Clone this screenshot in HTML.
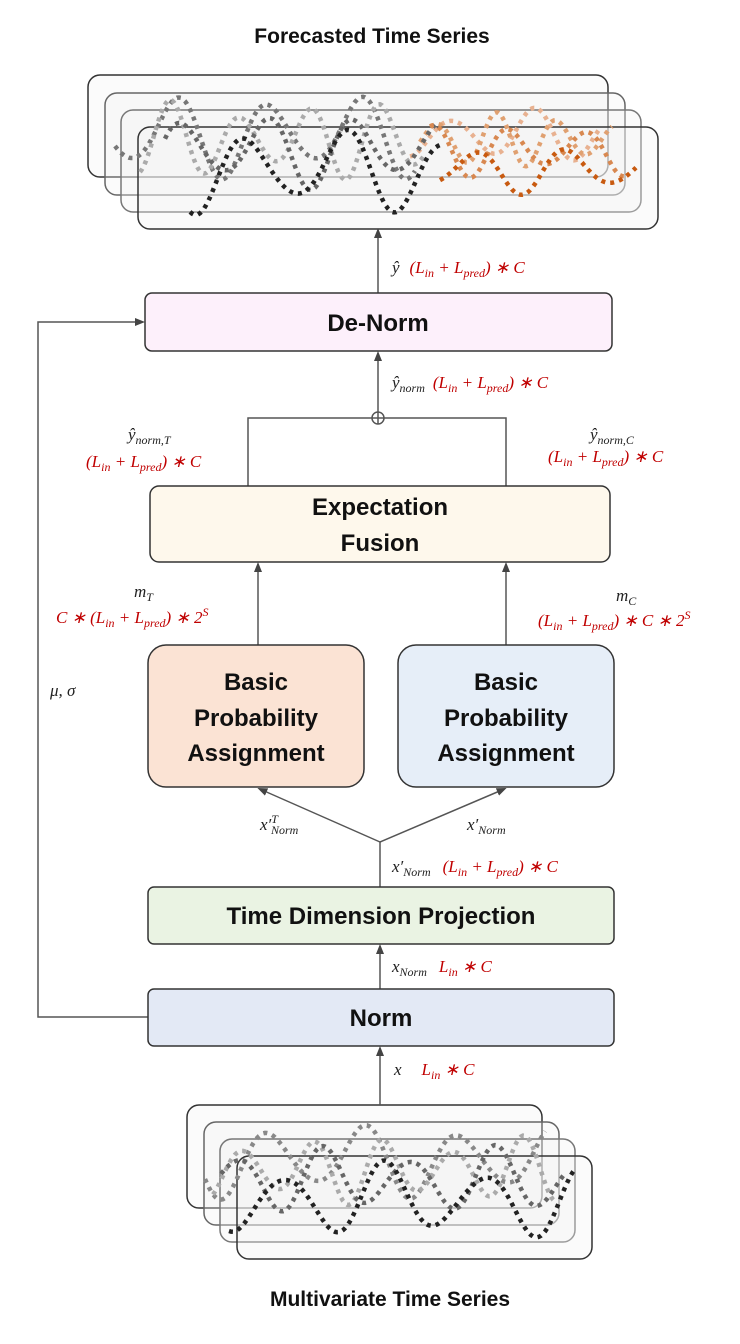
<!DOCTYPE html>
<html><head><meta charset="utf-8"><style>
html,body{margin:0;padding:0;background:#fff}
svg{display:block}
.t{font-family:"Liberation Sans",sans-serif;font-weight:bold;fill:#111;text-anchor:middle}
.m{font-family:"Liberation Serif",serif;font-style:italic;font-size:17px}
.r{fill:#c00000}
.k{fill:#222}
.s{font-size:12px}
</style></head><body>
<svg id="s" width="740" height="1344" viewBox="0 0 740 1344" xmlns="http://www.w3.org/2000/svg">
<defs><marker id="a" markerWidth="10" markerHeight="10" refX="5" refY="5" orient="auto" markerUnits="userSpaceOnUse"><path d="M0,1 L10,5 L0,9 Z" fill="#444"/></marker></defs>
<text class="t" x="372" y="43" font-size="21">Forecasted Time Series</text>
<text class="t" x="390" y="1306" font-size="21">Multivariate Time Series</text>
<g id="top"></g><g id="bot"></g>
<g stroke="#555" stroke-width="1.5" fill="none">
<line x1="378" y1="293" x2="378" y2="233" marker-end="url(#a)"/>
<line x1="378" y1="412" x2="378" y2="356" marker-end="url(#a)"/>
<circle cx="378" cy="418" r="6"/><line x1="372" y1="418" x2="384" y2="418"/><line x1="378" y1="412" x2="378" y2="424"/>
<polyline points="248,486 248,418 372,418"/><polyline points="384,418 506,418 506,486"/>
<line x1="258" y1="645" x2="258" y2="567" marker-end="url(#a)"/>
<line x1="506" y1="645" x2="506" y2="567" marker-end="url(#a)"/>
<polyline points="380,887 380,842"/>
<line x1="380" y1="842" x2="262" y2="790" marker-end="url(#a)"/>
<line x1="380" y1="842" x2="502" y2="790" marker-end="url(#a)"/>
<line x1="380" y1="989" x2="380" y2="949" marker-end="url(#a)"/>
<line x1="380" y1="1105" x2="380" y2="1051" marker-end="url(#a)"/>
<polyline points="148,1017 38,1017 38,322 140,322" marker-end="url(#a)"/>
</g>
<g stroke="#333" stroke-width="1.5">
<rect x="145" y="293" width="467" height="58" rx="7" fill="#fdf0fb"/>
<rect x="150" y="486" width="460" height="76" rx="9" fill="#fef8ec"/>
<rect x="148" y="645" width="216" height="142" rx="18" fill="#fbe3d4"/>
<rect x="398" y="645" width="216" height="142" rx="18" fill="#e6eef8"/>
<rect x="148" y="887" width="466" height="57" rx="6" fill="#eaf3e3"/>
<rect x="148" y="989" width="466" height="57" rx="6" fill="#e3e9f5"/>
</g>
<text class="t" x="378" y="331" font-size="24">De-Norm</text>
<text class="t" x="380" y="515" font-size="24">Expectation</text>
<text class="t" x="380" y="551" font-size="24">Fusion</text>
<text class="t" x="256" y="690" font-size="24">Basic</text>
<text class="t" x="256" y="726" font-size="24">Probability</text>
<text class="t" x="256" y="761" font-size="24">Assignment</text>
<text class="t" x="506" y="690" font-size="24">Basic</text>
<text class="t" x="506" y="726" font-size="24">Probability</text>
<text class="t" x="506" y="761" font-size="24">Assignment</text>
<text class="t" x="381" y="924" font-size="24">Time Dimension Projection</text>
<text class="t" x="381" y="1026" font-size="24">Norm</text>
<g class="m">
<text x="392" y="273"><tspan class="k">ŷ</tspan><tspan class="r" dx="10">(L</tspan><tspan class="r s" dy="4">in</tspan><tspan class="r" dy="-4"> + L</tspan><tspan class="r s" dy="4">pred</tspan><tspan class="r" dy="-4">) ∗ C</tspan></text>
<text x="392" y="388"><tspan class="k">ŷ</tspan><tspan class="k s" dy="4">norm</tspan><tspan class="r" dx="8" dy="-4">(L</tspan><tspan class="r s" dy="4">in</tspan><tspan class="r" dy="-4"> + L</tspan><tspan class="r s" dy="4">pred</tspan><tspan class="r" dy="-4">) ∗ C</tspan></text>
<text x="128" y="440"><tspan class="k">ŷ</tspan><tspan class="k s" dy="4">norm,T</tspan></text>
<text x="86" y="467"><tspan class="r">(L</tspan><tspan class="r s" dy="4">in</tspan><tspan class="r" dy="-4"> + L</tspan><tspan class="r s" dy="4">pred</tspan><tspan class="r" dy="-4">) ∗ C</tspan></text>
<text x="590" y="440"><tspan class="k">ŷ</tspan><tspan class="k s" dy="4">norm,C</tspan></text>
<text x="548" y="462"><tspan class="r">(L</tspan><tspan class="r s" dy="4">in</tspan><tspan class="r" dy="-4"> + L</tspan><tspan class="r s" dy="4">pred</tspan><tspan class="r" dy="-4">) ∗ C</tspan></text>
<text x="134" y="597"><tspan class="k">m</tspan><tspan class="k s" dy="4">T</tspan></text>
<text x="56" y="623"><tspan class="r">C ∗ (L</tspan><tspan class="r s" dy="4">in</tspan><tspan class="r" dy="-4"> + L</tspan><tspan class="r s" dy="4">pred</tspan><tspan class="r" dy="-4">) ∗ 2</tspan><tspan class="r s" dy="-7">S</tspan></text>
<text x="616" y="601"><tspan class="k">m</tspan><tspan class="k s" dy="4">C</tspan></text>
<text x="538" y="626"><tspan class="r">(L</tspan><tspan class="r s" dy="4">in</tspan><tspan class="r" dy="-4"> + L</tspan><tspan class="r s" dy="4">pred</tspan><tspan class="r" dy="-4">) ∗ C ∗ 2</tspan><tspan class="r s" dy="-7">S</tspan></text>
<text x="50" y="696" class="k">μ, σ</text>
<text x="260" y="830"><tspan class="k">x′</tspan><tspan class="k s" dy="-7">T</tspan><tspan class="k s" dx="-7" dy="11">Norm</tspan></text>
<text x="467" y="830"><tspan class="k">x′</tspan><tspan class="k s" dy="4">Norm</tspan></text>
<text x="392" y="872"><tspan class="k">x′</tspan><tspan class="k s" dy="4">Norm</tspan><tspan class="r" dx="12" dy="-4">(L</tspan><tspan class="r s" dy="4">in</tspan><tspan class="r" dy="-4"> + L</tspan><tspan class="r s" dy="4">pred</tspan><tspan class="r" dy="-4">) ∗ C</tspan></text>
<text x="392" y="972"><tspan class="k">x</tspan><tspan class="k s" dy="4">Norm</tspan><tspan class="r" dx="12" dy="-4">L</tspan><tspan class="r s" dy="4">in</tspan><tspan class="r" dy="-4"> ∗ C</tspan></text>
<text x="394" y="1075"><tspan class="k">x</tspan><tspan class="r" dx="20">L</tspan><tspan class="r s" dy="4">in</tspan><tspan class="r" dy="-4"> ∗ C</tspan></text>
</g>
</svg>
<script>
(function(){
var NS="http://www.w3.org/2000/svg";
function el(p,n,a){var e=document.createElementNS(NS,n);for(var k in a)e.setAttribute(k,a[k]);p.appendChild(e);return e;}
function wave(g,x0,x1,yc,amp,per,ph,color){
 var d="";for(var x=x0;x<=x1;x+=2){var y=yc+amp*Math.sin((x-x0)/per*2*Math.PI+ph)*(0.75+0.25*Math.sin(x/29+ph));d+=(x==x0?"M":"L")+x.toFixed(1)+","+y.toFixed(1);}
 el(g,"path",{d:d,fill:"none",stroke:color,"stroke-width":"4.5","stroke-dasharray":"4 5"});
}
function stack(g,xs,ys,w,h,lines){
 var cols=["#333","#666","#777","#333"];
 for(var i=0;i<4;i++){
  el(g,"rect",{x:xs[i],y:ys[i],width:w,height:h,rx:12,fill:"#f3f3f3","fill-opacity":"0.3",stroke:cols[i],"stroke-width":"1.5"});
 }
 for(var i=0;i<4;i++)lines(g,i);
}
var top=document.getElementById("top");
stack(top,[88,105,121,138],[75,93,110,127],520,102,function(g,i){
 var grey=["#777","#aaa","#666","#222"][i];
 var org=["#e8b190","#e0a070","#d88850","#c85a10"][i];
 var yc=[135,140,150,170][i],ph=[0.5,2,3.5,1.2][i],per=[92,70,86,100][i];
 wave(g,115+i*25,415+i*10,yc,[45,40,40,45][i],per,ph,grey);
 wave(g,410+i*10,600+i*12,yc,[28,28,28,25][i],per-10,ph+1,org);
});
var bot=document.getElementById("bot");
stack(bot,[187,204,220,237],[1105,1122,1139,1156],355,103,function(g,i){
 var grey=["#888","#aaa","#666","#222"][i];
 var yc=[1160,1170,1180,1200][i],ph=[0.5,2,3.5,1.2][i],per=[95,70,86,100][i];
 wave(g,205+i*8,545+i*10,yc,[40,35,35,40][i],per,ph,grey);
});
})();
</script>
</body></html>
